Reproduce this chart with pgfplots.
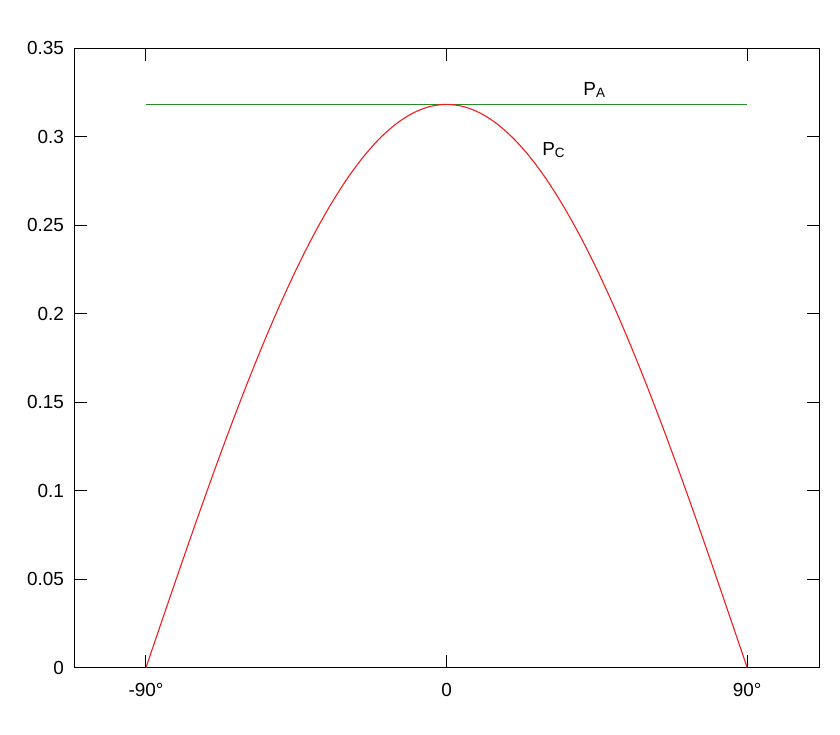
\documentclass[border=0pt]{standalone}
\usepackage{fontspec}
\setmainfont{Liberation Sans}
\usepackage{pgfplots}
\pgfplotsset{compat=1.18}

\definecolor{pcred}{RGB}{240,30,30}
\definecolor{pagreen}{RGB}{40,140,40}

\begin{document}
\fontsize{19}{22}\selectfont
\begin{tikzpicture}
\begin{axis}[
  at={(0,0)}, anchor=south west,
  scale only axis,
  width=744.5bp, height=619.4bp,
  xmin=-111.4, xmax=111.5,
  ymin=0, ymax=0.35,
  xtick={-90,0,90},
  xticklabels={-90°,0,90°},
  ytick={0,0.05,0.1,0.15,0.2,0.25,0.3,0.35},
  yticklabels={0,0.05,0.1,0.15,0.2,0.25,0.3,0.35},
  tick align=inside,
  major tick length=12.5bp,
  tick style={black, line width=1bp},
  axis line style={black, line width=1bp},
  /pgf/number format/assume math mode=true,
  xticklabel style={yshift=-9bp},
  yticklabel style={xshift=-4bp},
  clip=false,
]
\addplot[pagreen, line width=1.1bp] coordinates {(-90,0.31831) (90,0.31831)};
\addplot[pcred, line width=1.1bp, smooth] coordinates {
(-90,0) (-85,0.02774) (-80,0.05527) (-75,0.08239) (-70,0.10887) (-65,0.13452)
(-60,0.15915) (-55,0.18258) (-50,0.20461) (-45,0.22508) (-40,0.24384)
(-35,0.26074) (-30,0.27566) (-25,0.28849) (-20,0.29911) (-15,0.30746)
(-10,0.31347) (-5,0.31710) (0,0.31831) (5,0.31710) (10,0.31347) (15,0.30746)
(20,0.29911) (25,0.28849) (30,0.27566) (35,0.26074) (40,0.24384) (45,0.22508)
(50,0.20461) (55,0.18258) (60,0.15915) (65,0.13452) (70,0.10887) (75,0.08239)
(80,0.05527) (85,0.02774) (90,0)};
\node[anchor=base west, inner sep=0pt] at (axis cs:40.9,0.3236)
  {P\raisebox{-2bp}{\fontsize{13.5}{14}\selectfont A}};
\node[anchor=base west, inner sep=0pt] at (axis cs:28.6,0.2897)
  {P\raisebox{-2bp}{\fontsize{13.5}{14}\selectfont C}};
\end{axis}
\path[use as bounding box] (-74.5bp,-67.3bp) rectangle (765.5bp,667.7bp);
\end{tikzpicture}
\end{document}
